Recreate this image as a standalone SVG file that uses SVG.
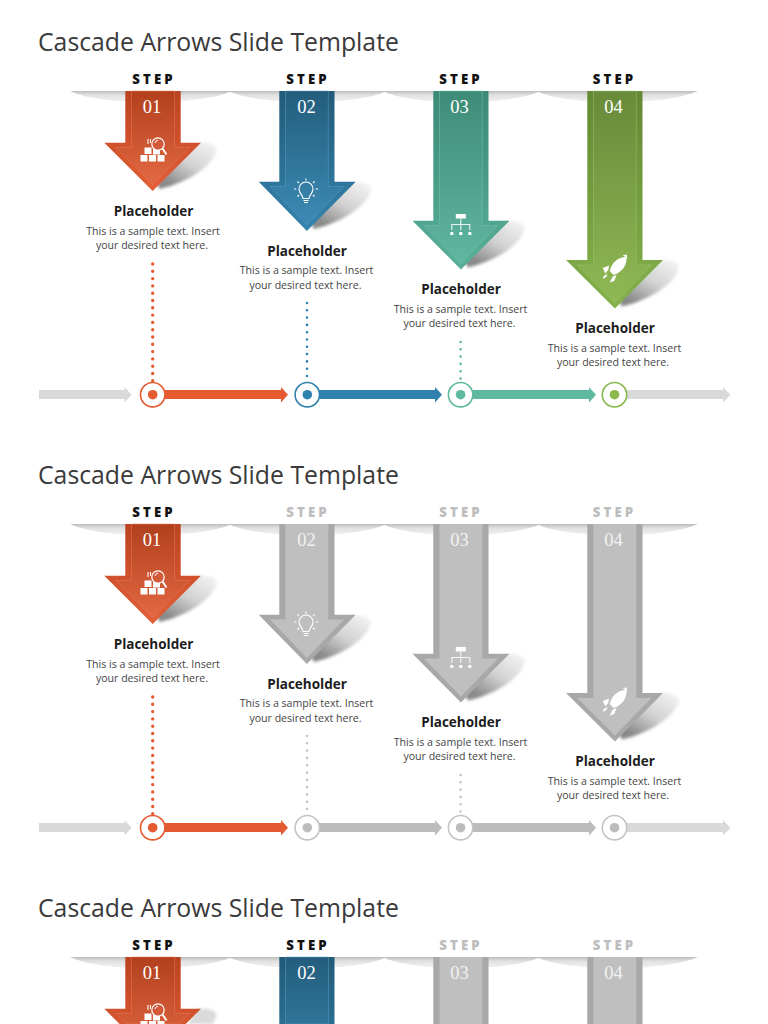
<svg xmlns="http://www.w3.org/2000/svg" xmlns:xlink="http://www.w3.org/1999/xlink" width="768" height="1024" viewBox="0 0 768 1024">
<style>
.title{font:400 24.8px "Open Sans","Liberation Sans",sans-serif;fill:#3a3a3a}
.step{font:800 13.2px "Open Sans","Liberation Sans",sans-serif;letter-spacing:3.1px;text-anchor:middle;fill:#111}
.step.off{fill:#bdbdbd}
.num{font:400 18.5px "Liberation Serif",serif;text-anchor:middle;fill:#fff}
.num.off{fill:#f2f2f2}
.ph{font:700 13.5px "Open Sans","Liberation Sans",sans-serif;text-anchor:middle;fill:#1c1c1c}
.body{font:400 10.6px "Open Sans","Liberation Sans",sans-serif;text-anchor:middle;fill:#454545}
.ico{fill:none;stroke:#fff;stroke-width:1.1}
.icf{fill:#fff;stroke:none}
.dot{fill:none;stroke-linecap:round;stroke-dasharray:0 7.3}
.ring{fill:#fff;stroke-width:1.6}
.o1{fill:url(#go1)}.i1{fill:url(#gi1);stroke:#e57b58;stroke-width:.5}
.o2{fill:url(#go2)}.i2{fill:url(#gi2);stroke:#5f9dbe;stroke-width:.5}
.o3{fill:url(#go3)}.i3{fill:url(#gi3);stroke:#78c2ae;stroke-width:.5}
.o4{fill:url(#go4)}.i4{fill:url(#gi4);stroke:#9cc46c;stroke-width:.5}
.og{fill:#a8a8a8}.ig{fill:#bfbfbf}
</style>
<defs>
<linearGradient id="go1" gradientUnits="userSpaceOnUse" x1="0" y1="91" x2="0" y2="191"><stop offset="0" stop-color="#bb4320"/><stop offset="1" stop-color="#e35f37"/></linearGradient>
<linearGradient id="gi1" gradientUnits="userSpaceOnUse" x1="0" y1="91" x2="0" y2="191"><stop offset="0" stop-color="#b2401d"/><stop offset="1" stop-color="#e56b45"/></linearGradient>
<linearGradient id="go2" gradientUnits="userSpaceOnUse" x1="0" y1="91" x2="0" y2="231"><stop offset="0" stop-color="#225a78"/><stop offset="1" stop-color="#3484ae"/></linearGradient>
<linearGradient id="gi2" gradientUnits="userSpaceOnUse" x1="0" y1="91" x2="0" y2="231"><stop offset="0" stop-color="#235d7c"/><stop offset="1" stop-color="#3d8db8"/></linearGradient>
<linearGradient id="go3" gradientUnits="userSpaceOnUse" x1="0" y1="91" x2="0" y2="270"><stop offset="0" stop-color="#3a8a76"/><stop offset="1" stop-color="#58b099"/></linearGradient>
<linearGradient id="gi3" gradientUnits="userSpaceOnUse" x1="0" y1="91" x2="0" y2="270"><stop offset="0" stop-color="#3e8c78"/><stop offset="1" stop-color="#62b8a2"/></linearGradient>
<linearGradient id="go4" gradientUnits="userSpaceOnUse" x1="0" y1="91" x2="0" y2="309"><stop offset="0" stop-color="#648934"/><stop offset="1" stop-color="#84b24b"/></linearGradient>
<linearGradient id="gi4" gradientUnits="userSpaceOnUse" x1="0" y1="91" x2="0" y2="309"><stop offset="0" stop-color="#688a3a"/><stop offset="1" stop-color="#90ba55"/></linearGradient>
<linearGradient id="band" x1="0" y1="0" x2="0" y2="1"><stop offset="0" stop-color="#bdbdbd"/><stop offset=".35" stop-color="#e0e0e0"/><stop offset="1" stop-color="#f3f3f3"/></linearGradient>
<linearGradient id="curlg" x1="1" y1="0" x2=".25" y2=".85"><stop offset="0" stop-color="#f6f6f6"/><stop offset=".55" stop-color="#d2d2d2"/><stop offset="1" stop-color="#8a8a8a"/></linearGradient>
<filter id="soft" x="-20%" y="-20%" width="140%" height="140%"><feGaussianBlur stdDeviation="1.5"/></filter>

<polygon id="a1o" points="125.3,91 180.7,91 180.7,142.7 201,142.7 152.7,191 104.3,142.7 125.3,142.7"/>
<polygon id="a1i" points="131.5,91 174.5,91 174.5,147.5 189.5,147.5 152.7,185 116,147.5 131.5,147.5"/>
<polygon id="a2o" points="279.3,91 334.5,91 334.5,181.7 355.7,181.7 306.9,231 258.7,181.7 279.3,181.7"/>
<polygon id="a2i" points="285.5,91 328.3,91 328.3,186.5 344,186.5 306.9,225 270,186.5 285.5,186.5"/>
<polygon id="a3o" points="433.3,91 488.5,91 488.5,220.7 509.5,220.7 460.9,269.5 412.5,220.7 433.3,220.7"/>
<polygon id="a3i" points="439.5,91 482.3,91 482.3,225.5 498,225.5 460.9,263.5 424,225.5 439.5,225.5"/>
<polygon id="a4o" points="587.3,91 642.5,91 642.5,260 663,260 614.9,308.5 566,260 587.3,260"/>
<polygon id="a4i" points="593.5,91 636.3,91 636.3,265 651.5,265 614.9,302.5 577.5,265 593.5,265"/>
<polygon id="t1o" points="125.3,91 180.7,91 180.7,142.7 201,142.7 185.7,158 119.6,158 104.3,142.7 125.3,142.7"/>
<polygon id="t1i" points="131.5,91 174.5,91 174.5,147.5 189.5,147.5 179,158 126.5,158 116,147.5 131.5,147.5"/>
<path id="curl" d="M44,-48C55,-50 64,-47 64,-41C61,-26 37,-9 7,-2L-3,-20Z"/>
<path id="curlT" d="M44,-48C55,-50 64,-47 64,-41C63,-40 62,-36 60,-33L35,-33Z"/>

<path id="lobes" d="M70,91C100,106 200,106 232,91H70ZM228,91C260,106 355,106 387,91H228ZM382,91C414,106 508,106 541,91H382ZM536,91C568,106 665,106 698,91H536Z"/>

<g id="icBoxes">
<rect class="icf" x="-12.5" y="3" width="7" height="6.5"/><rect class="icf" x="-4" y="3" width="7" height="6.5"/><rect class="icf" x="4.5" y="3" width="7" height="6.5"/>
<rect class="icf" x="-8.5" y="-4.5" width="7" height="6.5"/><rect class="icf" x="0" y="-4" width="7" height="6.5"/>
<circle cx="5" cy="-8" r="6.2" fill="#d2593a" stroke="#fff" stroke-width="1.2"/><path d="M2,-9A3.5,3.5 0 0 1 5,-11.8" fill="none" stroke="#fff" stroke-width="1"/>
<path d="M9.5,-3.5L13.5,2.5" stroke="#fff" stroke-width="1.9" fill="none"/>
<path d="M-5,-13V-8M-2.5,-13V-9" stroke="#fff" stroke-width="1.1" fill="none"/>
</g>
<g id="icBulb">
<path class="ico" d="M-3,6.5C-3,3 -7,1.5 -7,-3A7,7 0 0 1 7,-3C7,1.5 3,3 3,6.5Z"/>
<path class="ico" d="M-2.5,8.5H2.5M-2,10.5H2M0,-13.5V-11.5M-8.5,-10.5L-7,-9M8.5,-10.5L7,-9M-12,-3H-9.8M12,-3H9.8M-8.5,4.5L-7,3M8.5,4.5L7,3" stroke-width=".9"/>
</g>
<g id="icOrg">
<rect class="icf" x="-5" y="-13" width="10" height="4.5"/>
<path class="ico" d="M0,-8V-2.5M-9,3V-2.5H9V3M0,-2.5V3" stroke-width=".8" opacity=".85"/>
<rect class="icf" x="-10.5" y="5" width="3" height="3"/><rect class="icf" x="-1.5" y="5" width="3" height="3"/><rect class="icf" x="7.5" y="5" width="3" height="3"/>
</g>
<g id="icRocket">
<path class="icf" d="M11,-12C4,-12 -3,-7 -5,2L-1,6C8,3 12,-4 12,-12Z"/>
<path class="icf" d="M-5.5,-3.5L-12,-1L-9.5,4.5L-6.5,1ZM2,6L-.5,12L-5,13.5L-2,7.5ZM-7,5L-11,7L-12,10L-8.5,8Z"/>
<path class="icf" d="M8,-14L12,-14.5L12.5,-10.5Z"/>
</g>
</defs>

<rect width="768" height="1024" fill="#fff"/>

<!-- PANEL 1 -->
<g id="panel1">
<text class="title" x="38" y="51">Cascade Arrows Slide Template</text>
<use href="#lobes" fill="url(#band)"/>
<g id="p1-connectors">
<path class="dot" stroke="#e55a31" stroke-width="3.4" d="M152.7,264V381"/>
<path class="dot" stroke="#2f82ad" stroke-width="2.6" d="M307,303V381"/>
<path class="dot" stroke="#5fb9a0" stroke-width="2.6" d="M460.6,342V381"/>
<path fill="#d9d9d9" d="M39,390H124.5V387L131.5,394.7L124.5,402.5V399H39Z"/>
<path fill="#e55a31" d="M164,390H281V387L288,394.7L281,402.5V399H164Z"/>
<path fill="#2f82ad" d="M318,390H435V387L442,394.7L435,402.5V399H318Z"/>
<path fill="#5fb9a0" d="M472,390H589V387L596,394.7L589,402.5V399H472Z"/>
<path fill="#d9d9d9" d="M626,390H723V387L730.5,394.7L723,402.5V399H626Z"/>
</g>
<g id="p1-step1"><text class="step" x="154" y="84">STEP</text><use href="#curl" x="152.7" y="191" fill="url(#curlg)" filter="url(#soft)"/><use href="#a1o" class="o1"/><use href="#a1i" class="i1"/><text class="num" x="152" y="113">01</text><use href="#icBoxes" x="153" y="152"/><text class="ph" x="153.5" y="216">Placeholder</text><text class="body" x="153" y="235">This is a sample text. Insert</text><text class="body" x="152" y="249">your desired text here.</text><circle class="ring" stroke="#e55a31" cx="152.7" cy="394.7" r="12.2"/><circle fill="#e55a31" cx="152.7" cy="394.7" r="4.8"/></g>
<g id="p1-step2"><text class="step" x="308" y="84">STEP</text><use href="#curl" x="306.9" y="231" fill="url(#curlg)" filter="url(#soft)"/><use href="#a2o" class="o2"/><use href="#a2i" class="i2"/><text class="num" x="306.5" y="113">02</text><use href="#icBulb" x="306" y="192"/><text class="ph" x="307" y="255.5">Placeholder</text><text class="body" x="306.5" y="274">This is a sample text. Insert</text><text class="body" x="305.5" y="288.5">your desired text here.</text><circle class="ring" stroke="#2f82ad" cx="307.3" cy="394.7" r="12.2"/><circle fill="#2f82ad" cx="307.3" cy="394.7" r="4.8"/></g>
<g id="p1-step3"><text class="step" x="461" y="84">STEP</text><use href="#curl" x="460.9" y="269.5" fill="url(#curlg)" filter="url(#soft)"/><use href="#a3o" class="o3"/><use href="#a3i" class="i3"/><text class="num" x="459.5" y="113">03</text><use href="#icOrg" x="460.8" y="227"/><text class="ph" x="461" y="294">Placeholder</text><text class="body" x="460.5" y="313">This is a sample text. Insert</text><text class="body" x="459.5" y="327">your desired text here.</text><circle class="ring" stroke="#5fb9a0" cx="460.6" cy="394.7" r="12.2"/><circle fill="#5fb9a0" cx="460.6" cy="394.7" r="4.8"/></g>
<g id="p1-step4"><text class="step" x="614.5" y="84">STEP</text><use href="#curl" x="614.9" y="308.5" fill="url(#curlg)" filter="url(#soft)"/><use href="#a4o" class="o4"/><use href="#a4i" class="i4"/><text class="num" x="613.5" y="113">04</text><use href="#icRocket" x="614.7" y="269"/><text class="ph" x="615" y="333">Placeholder</text><text class="body" x="614.5" y="352">This is a sample text. Insert</text><text class="body" x="613" y="366">your desired text here.</text><circle class="ring" stroke="#8ab84d" cx="614.5" cy="394.7" r="12.2"/><circle fill="#8ab84d" cx="614.5" cy="394.7" r="4.8"/></g>
</g>

<!-- PANEL 2 -->
<g id="panel2" transform="translate(0,433)">
<text class="title" x="38" y="51">Cascade Arrows Slide Template</text>
<use href="#lobes" fill="url(#band)"/>
<g id="p2-connectors">
<path class="dot" stroke="#e55a31" stroke-width="3.4" d="M152.7,264V381"/>
<path class="dot" stroke="#c4c4c4" stroke-width="2.6" d="M307,303V381"/>
<path class="dot" stroke="#c4c4c4" stroke-width="2.6" d="M460.6,342V381"/>
<path fill="#d9d9d9" d="M39,390H124.5V387L131.5,394.7L124.5,402.5V399H39Z"/>
<path fill="#e55a31" d="M164,390H281V387L288,394.7L281,402.5V399H164Z"/>
<path fill="#bcbcbc" d="M318,390H435V387L442,394.7L435,402.5V399H318Z"/>
<path fill="#bcbcbc" d="M472,390H589V387L596,394.7L589,402.5V399H472Z"/>
<path fill="#d9d9d9" d="M626,390H723V387L730.5,394.7L723,402.5V399H626Z"/>
</g>
<g id="p2-step1"><text class="step" x="154" y="84">STEP</text><use href="#curl" x="152.7" y="191" fill="url(#curlg)" filter="url(#soft)"/><use href="#a1o" class="o1"/><use href="#a1i" class="i1"/><text class="num" x="152" y="113">01</text><use href="#icBoxes" x="153" y="152"/><text class="ph" x="153.5" y="216">Placeholder</text><text class="body" x="153" y="235">This is a sample text. Insert</text><text class="body" x="152" y="249">your desired text here.</text><circle class="ring" stroke="#e55a31" cx="152.7" cy="394.7" r="12.2"/><circle fill="#e55a31" cx="152.7" cy="394.7" r="4.8"/></g>
<g id="p2-step2"><text class="step off" x="308" y="84">STEP</text><use href="#curl" x="306.9" y="231" fill="url(#curlg)" filter="url(#soft)"/><use href="#a2o" class="og"/><use href="#a2i" class="ig"/><text class="num off" x="306.5" y="113">02</text><use href="#icBulb" x="306" y="192"/><text class="ph" x="307" y="255.5">Placeholder</text><text class="body" x="306.5" y="274">This is a sample text. Insert</text><text class="body" x="305.5" y="288.5">your desired text here.</text><circle class="ring" stroke="#c4c4c4" cx="307.3" cy="394.7" r="12.2"/><circle fill="#bcbcbc" cx="307.3" cy="394.7" r="4.8"/></g>
<g id="p2-step3"><text class="step off" x="461" y="84">STEP</text><use href="#curl" x="460.9" y="269.5" fill="url(#curlg)" filter="url(#soft)"/><use href="#a3o" class="og"/><use href="#a3i" class="ig"/><text class="num off" x="459.5" y="113">03</text><use href="#icOrg" x="460.8" y="227"/><text class="ph" x="461" y="294">Placeholder</text><text class="body" x="460.5" y="313">This is a sample text. Insert</text><text class="body" x="459.5" y="327">your desired text here.</text><circle class="ring" stroke="#c4c4c4" cx="460.6" cy="394.7" r="12.2"/><circle fill="#bcbcbc" cx="460.6" cy="394.7" r="4.8"/></g>
<g id="p2-step4"><text class="step off" x="614.5" y="84">STEP</text><use href="#curl" x="614.9" y="308.5" fill="url(#curlg)" filter="url(#soft)"/><use href="#a4o" class="og"/><use href="#a4i" class="ig"/><text class="num off" x="613.5" y="113">04</text><use href="#icRocket" x="614.7" y="269"/><text class="ph" x="615" y="333">Placeholder</text><text class="body" x="614.5" y="352">This is a sample text. Insert</text><text class="body" x="613" y="366">your desired text here.</text><circle class="ring" stroke="#c4c4c4" cx="614.5" cy="394.7" r="12.2"/><circle fill="#bcbcbc" cx="614.5" cy="394.7" r="4.8"/></g>
</g>

<!-- PANEL 3 (cut by the page edge) -->
<g id="panel3" transform="translate(0,866)">
<text class="title" x="38" y="51">Cascade Arrows Slide Template</text>
<use href="#lobes" fill="url(#band)"/>
<g id="p3-step1"><text class="step" x="154" y="84">STEP</text><use href="#curlT" x="152.7" y="191" fill="#dadada" filter="url(#soft)"/><use href="#t1o" class="o1"/><use href="#t1i" class="i1"/><text class="num" x="152" y="113">01</text><use href="#icBoxes" x="153" y="152"/></g>
<g id="p3-step2"><text class="step" x="308" y="84">STEP</text><rect class="o2" x="279.3" y="91" width="55.2" height="67"/><rect class="i2" x="285.5" y="91" width="42.8" height="67"/><text class="num" x="306.5" y="113">02</text></g>
<g id="p3-step3"><text class="step off" x="461" y="84">STEP</text><rect class="og" x="433.3" y="91" width="55.2" height="67"/><rect class="ig" x="439.5" y="91" width="42.8" height="67"/><text class="num off" x="459.5" y="113">03</text></g>
<g id="p3-step4"><text class="step off" x="614.5" y="84">STEP</text><rect class="og" x="587.3" y="91" width="55.2" height="67"/><rect class="ig" x="593.5" y="91" width="42.8" height="67"/><text class="num off" x="613.5" y="113">04</text></g>
</g>
</svg>
